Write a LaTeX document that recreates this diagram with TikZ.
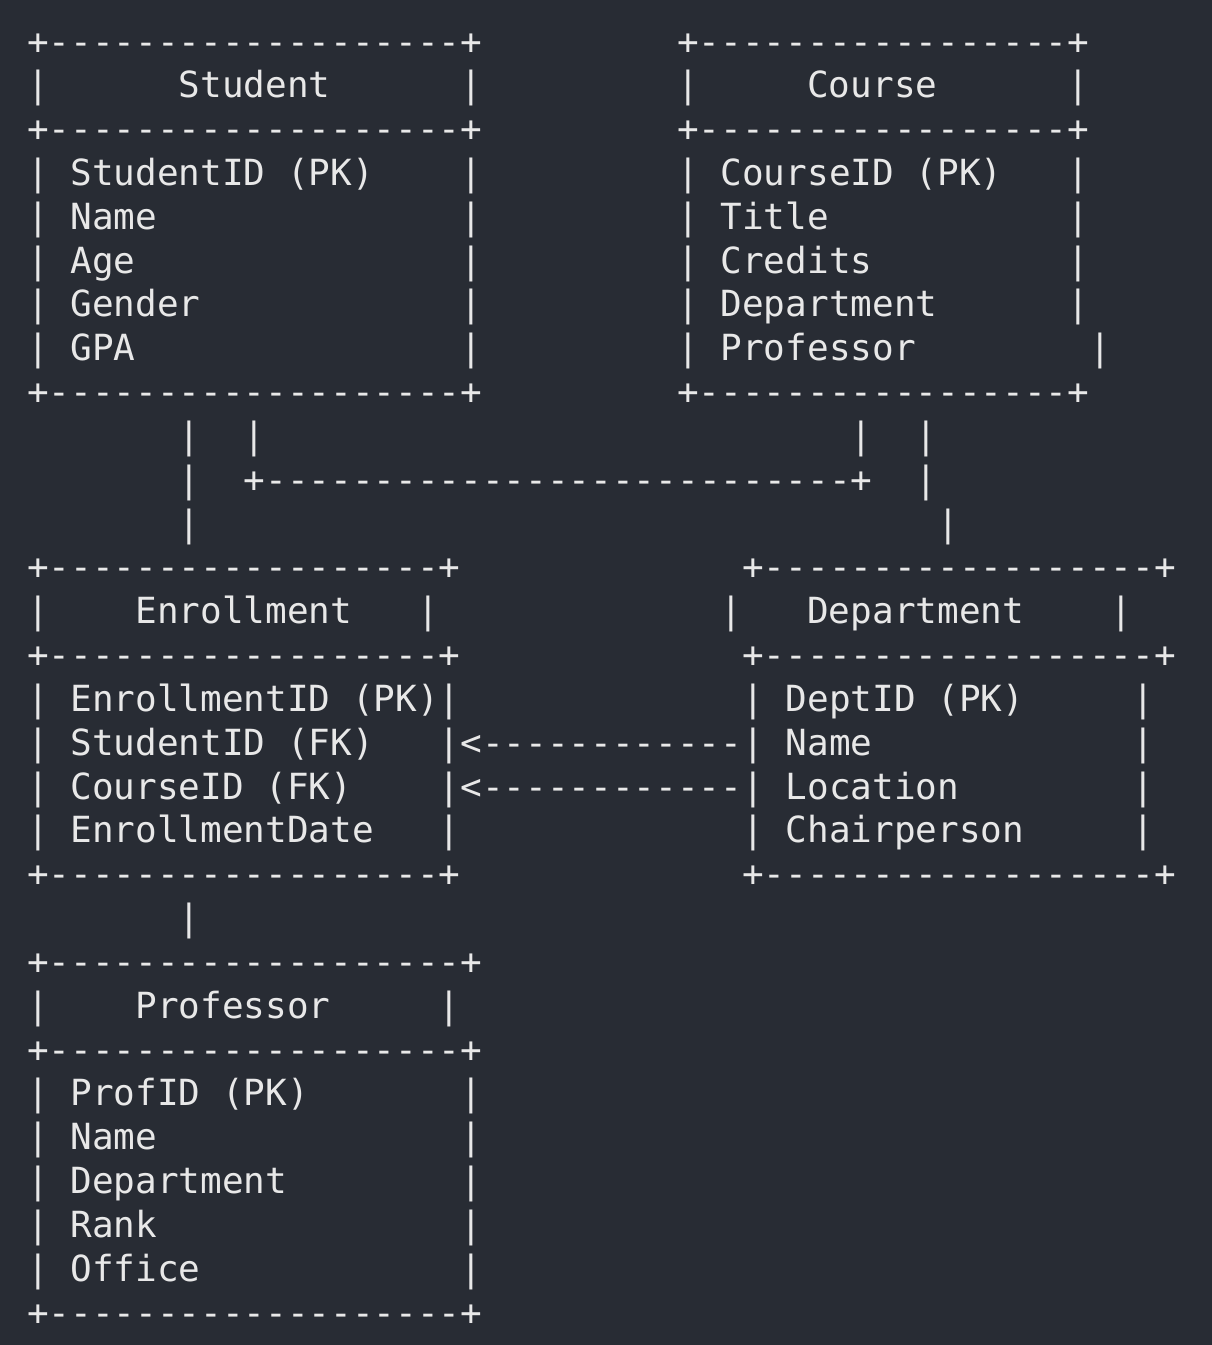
\documentclass[tikz,border=0pt]{standalone}
\usepackage{fontspec}
\setmonofont{DejaVu Sans Mono}
\ExplSyntaxOn
\cs_new:Npn \myrep #1 {\prg_replicate:nn{#1}{-}}
\ExplSyntaxOff
\definecolor{bg}{HTML}{282C34}
\definecolor{fg}{HTML}{E8E8E8}
\tikzset{txt/.style={anchor=base west,inner sep=0pt,text=fg,font=\ttfamily\fontsize{36}{36}\selectfont}}
\newcommand\T[4]{\node[txt] (#1) at ({27+#2*21.67pt},{-(54+(#3-1)*43.83)*1pt}) {#4};}
\newcommand\HL[4]{\T{#1}{#2}{#3}{+\myrep{#4}+}}
\begin{document}
\begin{tikzpicture}[x=1pt,y=1pt]
\fill[bg] (0,-1345) rectangle (1212,0);
\useasboundingbox (0,-1345) rectangle (1212,0);
% Student & Course
\HL{a1}{0}{1}{19}\HL{b1}{30}{1}{17}
\T{a2l}{0}{2}{|}\T{a2}{7}{2}{Student}\T{a2r}{20}{2}{|}
\T{b2l}{30}{2}{|}\T{b2}{36}{2}{Course}\T{b2r}{48}{2}{|}
\HL{a3}{0}{3}{19}\HL{b3}{30}{3}{17}
\T{a4l}{0}{4}{|}\T{a4}{2}{4}{StudentID (PK)}\T{a4r}{20}{4}{|}
\T{b4l}{30}{4}{|}\T{b4}{32}{4}{CourseID (PK)}\T{b4r}{48}{4}{|}
\T{a5l}{0}{5}{|}\T{a5}{2}{5}{Name}\T{a5r}{20}{5}{|}
\T{b5l}{30}{5}{|}\T{b5}{32}{5}{Title}\T{b5r}{48}{5}{|}
\T{a6l}{0}{6}{|}\T{a6}{2}{6}{Age}\T{a6r}{20}{6}{|}
\T{b6l}{30}{6}{|}\T{b6}{32}{6}{Credits}\T{b6r}{48}{6}{|}
\T{a7l}{0}{7}{|}\T{a7}{2}{7}{Gender}\T{a7r}{20}{7}{|}
\T{b7l}{30}{7}{|}\T{b7}{32}{7}{Department}\T{b7r}{48}{7}{|}
\T{a8l}{0}{8}{|}\T{a8}{2}{8}{GPA}\T{a8r}{20}{8}{|}
\T{b8l}{30}{8}{|}\T{b8}{32}{8}{Professor}\T{b8r}{49}{8}{|}
\HL{a9}{0}{9}{19}\HL{b9}{30}{9}{17}
% connectors
\T{c10a}{7}{10}{|}\T{c10b}{10}{10}{|}\T{c10c}{38}{10}{|}\T{c10d}{41}{10}{|}
\T{c11a}{7}{11}{|}\HL{c11b}{10}{11}{27}\T{c11d}{41}{11}{|}
\T{c12a}{7}{12}{|}\T{c12d}{42}{12}{|}
% Enrollment & Department
\HL{e13}{0}{13}{18}\HL{d13}{33}{13}{18}
\T{e14l}{0}{14}{|}\T{e14}{5}{14}{Enrollment}\T{e14r}{18}{14}{|}
\T{d14l}{32}{14}{|}\T{d14}{36}{14}{Department}\T{d14r}{50}{14}{|}
\HL{e15}{0}{15}{18}\HL{d15}{33}{15}{18}
\T{e16l}{0}{16}{|}\T{e16}{2}{16}{EnrollmentID (PK)}\T{e16r}{19}{16}{|}
\T{d16l}{33}{16}{|}\T{d16}{35}{16}{DeptID (PK)}\T{d16r}{51}{16}{|}
\T{e17l}{0}{17}{|}\T{e17}{2}{17}{StudentID (FK)}\T{e17r}{19}{17}{|<\myrep{12}|}
\T{d17}{35}{17}{Name}\T{d17r}{51}{17}{|}
\T{e18l}{0}{18}{|}\T{e18}{2}{18}{CourseID (FK)}\T{e18r}{19}{18}{|<\myrep{12}|}
\T{d18}{35}{18}{Location}\T{d18r}{51}{18}{|}
\T{e19l}{0}{19}{|}\T{e19}{2}{19}{EnrollmentDate}\T{e19r}{19}{19}{|}
\T{d19l}{33}{19}{|}\T{d19}{35}{19}{Chairperson}\T{d19r}{51}{19}{|}
\HL{e20}{0}{20}{18}\HL{d20}{33}{20}{18}
\T{c21}{7}{21}{|}
% Professor
\HL{p22}{0}{22}{19}
\T{p23l}{0}{23}{|}\T{p23}{5}{23}{Professor}\T{p23r}{19}{23}{|}
\HL{p24}{0}{24}{19}
\T{p25l}{0}{25}{|}\T{p25}{2}{25}{ProfID (PK)}\T{p25r}{20}{25}{|}
\T{p26l}{0}{26}{|}\T{p26}{2}{26}{Name}\T{p26r}{20}{26}{|}
\T{p27l}{0}{27}{|}\T{p27}{2}{27}{Department}\T{p27r}{20}{27}{|}
\T{p28l}{0}{28}{|}\T{p28}{2}{28}{Rank}\T{p28r}{20}{28}{|}
\T{p29l}{0}{29}{|}\T{p29}{2}{29}{Office}\T{p29r}{20}{29}{|}
\HL{p30}{0}{30}{19}
\end{tikzpicture}
\end{document}
